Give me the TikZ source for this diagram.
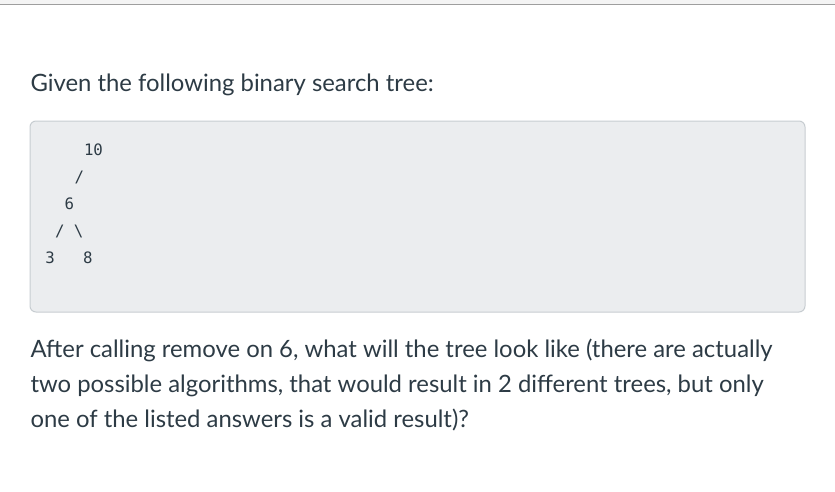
\documentclass[tikz,border=0pt]{standalone}
\usepackage{fontspec}
\setmainfont{Lato}
\newfontfamily\codefont{DejaVu Sans Mono}
\definecolor{pagetext}{HTML}{2D3B45}
\definecolor{codefill}{HTML}{EBEDEF}
\definecolor{codeline}{HTML}{C7CDD1}
\definecolor{topband}{HTML}{F4F4F4}
\definecolor{toprule}{HTML}{9E9E9E}

\tikzset{every picture/.style={line width=0.75pt}}
\tikzset{
  prose/.style={anchor=base west, inner sep=0pt, text=pagetext, font=\fontsize{17.9}{21}\selectfont},
  treecode/.style={anchor=base west, inner sep=0pt, text=pagetext, font=\codefont\fontsize{11.8}{14}\selectfont}
}

\begin{document}
\begin{tikzpicture}[x=0.75pt,y=0.75pt,yscale=-1,xscale=1]
    \useasboundingbox (0,0) rectangle (835,492);

    %Shape: Rectangle [top band]
    \fill [color=topband] (0,0) rectangle (835,4) ;
    %Straight Lines [top rule]
    \draw [color=toprule] (0,4.5) -- (835,4.5) ;

    % Text Node
    \draw (30,92) node [prose] (intro) {Given the following binary search tree:};

    %Shape: Rectangle [code block]
    \draw [color=codeline, fill=codefill, rounded corners=4.5pt] (30,121) rectangle (805,312) ;

    % Text Node
    \draw (83.5,155) node [treecode] (row10) {10};
    % Text Node
    \draw (74,182) node [treecode] (rowslash) {/};
    % Text Node
    \draw (64.2,209) node [treecode] (row6) {6};
    % Text Node
    \draw (54.5,236) node [treecode] (rowforks) {/ \textbackslash};
    % Text Node
    \draw (44.8,263) node [treecode] (rowleaves) {3~~~8};

    % Text Node
    \draw (30,357) node [prose] (ask1) {After calling remove on 6, what will the tree look like (there are actually};
    % Text Node
    \draw (30,392) node [prose] (ask2) {two possible algorithms, that would result in 2 different trees, but only};
    % Text Node
    \draw (30,427) node [prose] (ask3) {one of the listed answers is a valid result)?};

\end{tikzpicture}
\end{document}
